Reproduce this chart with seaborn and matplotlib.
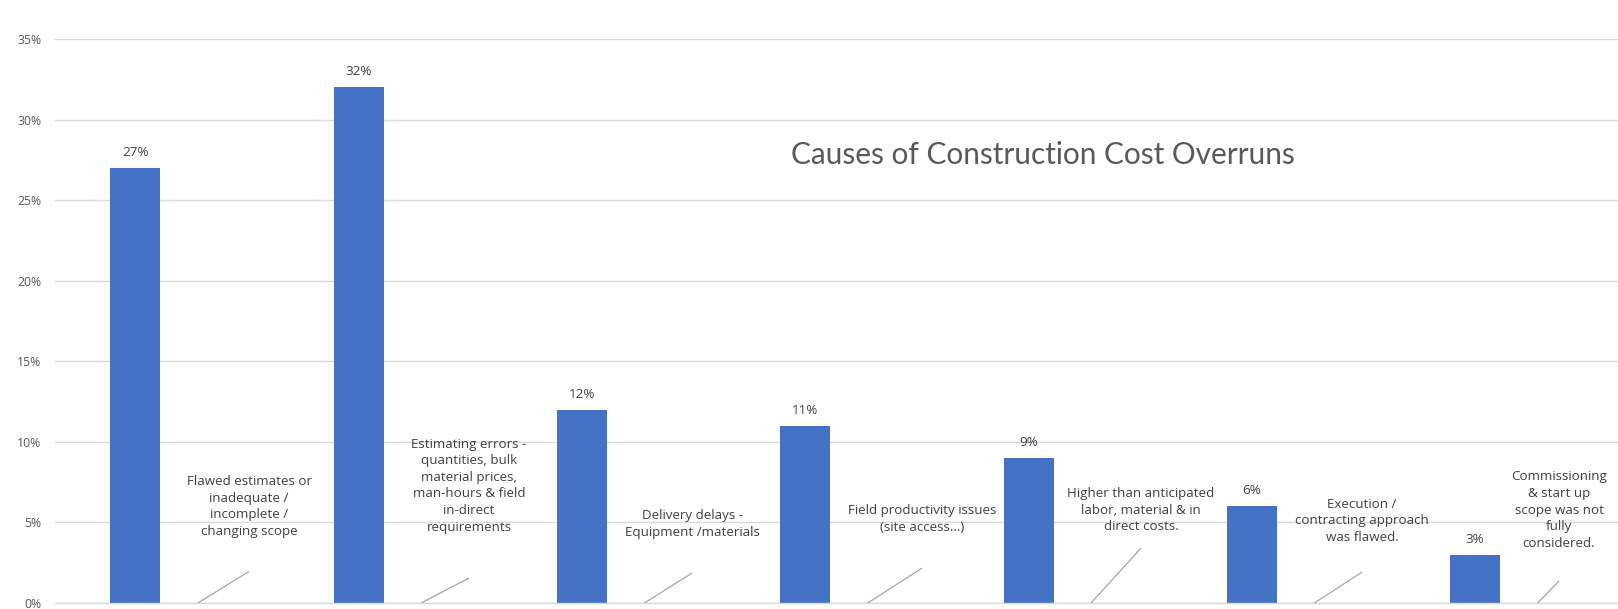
import matplotlib
matplotlib.use("Agg")
import matplotlib.pyplot as plt
import seaborn as sns
import pandas as pd

# ---- data ----
categories = [
    "Flawed estimates or\ninadequate /\nincomplete /\nchanging scope",
    "Estimating errors -\nquantities, bulk\nmaterial prices,\nman-hours & field\nin-direct\nrequirements",
    "Delivery delays -\nEquipment /materials",
    "Field productivity issues\n(site access...)",
    "Higher than anticipated\nlabor, material & in\ndirect costs.",
    "Execution /\ncontracting approach\nwas flawed.",
    "Commissioning\n& start up\nscope was not\nfully\nconsidered.",
]
shares = [0.27, 0.32, 0.12, 0.11, 0.09, 0.06, 0.03]
label_series = [0, 0, 0, 0, 0, 0, 0]
value_labels = ["27%", "32%", "12%", "11%", "9%", "6%", "3%"]
y_ticks = [0.0, 0.05, 0.10, 0.15, 0.20, 0.25, 0.30, 0.35]
y_tick_labels = ["0%", "5%", "10%", "15%", "20%", "25%", "30%", "35%"]
title = "Causes of Construction Cost Overruns"

# ---- layout for the category callouts (relative to the category centre) ----
callout_dx = [0.369, 0.354, 0.353, 0.383, 0.364, 0.354, 0.236]
callout_tip_y = [0.0196, 0.0155, 0.0186, 0.0217, 0.0341, 0.0192, 0.0137]
callout_text_y = [0.0599, 0.0729, 0.0490, 0.0521, 0.0577, 0.0509, 0.0577]

ids = list(range(len(categories)))
df = pd.DataFrame({
    "cat": ids * 2,
    "series": ["share"] * len(ids) + ["label"] * len(ids),
    "value": shares + label_series,
})

sns.set_theme(style="white")
plt.rcParams["font.family"] = ["Open Sans", "DejaVu Sans"]

fig = plt.figure(figsize=(16.18, 6.09), dpi=100)
ax = fig.add_axes([55 / 1618, 6 / 609, 1 - 55 / 1618, (603 - 39) / 609])

sns.barplot(data=df, x="cat", y="value", hue="series", hue_order=["share", "label"],
            palette={"share": "#4472C4", "label": "#FFFFFF"}, width=0.56, gap=0.2,
            errorbar=None, legend=False, ax=ax, linewidth=0, saturation=1)

ax.set_xlim(-0.5, len(categories) - 0.5)
ax.set_ylim(0, 0.35)
ax.set_yticks(y_ticks)
ax.set_yticklabels(y_tick_labels)
ax.set_xticks([i - 0.5 for i in range(len(categories) + 1)])
ax.set_xticklabels([])
ax.set_xlabel("")
ax.set_ylabel("")
ax.grid(axis="y", color="#D9D9D9", linewidth=1)
ax.set_axisbelow(True)
for s in ["left", "right", "top"]:
    ax.spines[s].set_visible(False)
ax.spines["bottom"].set_color("#D9D9D9")
ax.spines["bottom"].set_linewidth(1)
ax.tick_params(axis="y", length=0, pad=10, labelsize=8.8, labelcolor="#595959")
ax.tick_params(axis="x", length=4.5, width=1, color="#D9D9D9", direction="out")

# value labels
ax.bar_label(ax.containers[0], labels=value_labels, padding=6.5,
             fontsize=9.7, color="#404040")

# category callouts with leader lines
label_bars = ax.containers[1]
for i, (txt, bar) in enumerate(zip(categories, label_bars)):
    x0 = bar.get_x() + bar.get_width() / 2
    xt = i + callout_dx[i]
    ax.plot([x0, xt], [0, callout_tip_y[i]], color="#A6A6A6", linewidth=0.9,
            solid_capstyle="butt", zorder=3)
    ax.text(xt, callout_text_y[i], txt, ha="center", va="center",
            fontsize=9.6, color="#404040", linespacing=1.36)

fig.text(1043 / 1618, 1 - 155 / 609, title, ha="center", va="center",
         fontsize=21.4, color="#595959", family=["Lato", "DejaVu Sans"])

fig.savefig("out.png", dpi=100)
